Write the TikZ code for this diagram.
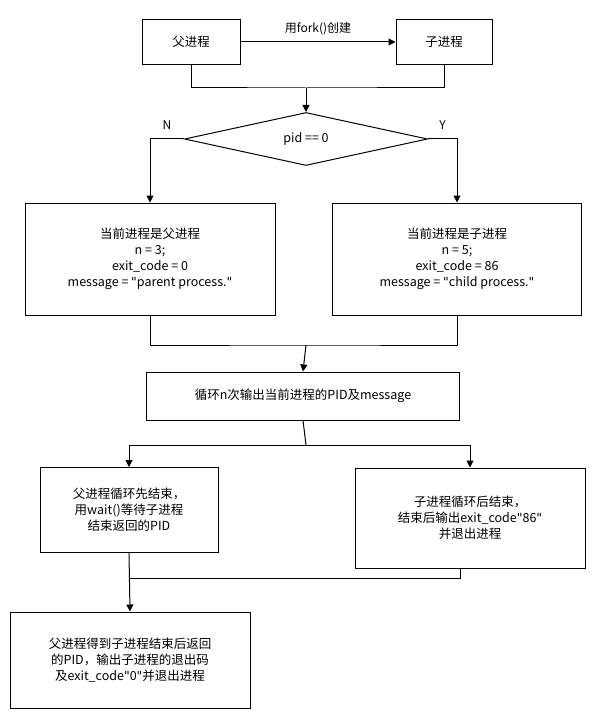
\documentclass[tikz,border=0pt]{standalone}
\usepackage{fontspec}
\setmainfont{Noto Sans CJK SC}
\newfontfamily\qfont{DejaVu Sans}
\newcommand{\qq}{{\qfont\symbol{34}}}
\usetikzlibrary{arrows.meta,shapes.geometric}
\tikzset{>={Triangle[length=7pt,width=7pt]},
  box/.style={draw,line width=1pt,align=center,font=\fontsize{12.5}{16}\selectfont,inner sep=0pt},
  lab/.style={font=\fontsize{12}{14}\selectfont},
  ln/.style={line width=1pt}}
\begin{document}
\begin{tikzpicture}[x=1pt,y=-1pt]
\useasboundingbox (0,0) rectangle (613,722);
\node[box,minimum width=98,minimum height=45] (fa) at (191,42) {父进程};
\node[box,minimum width=96,minimum height=45] (zi) at (444,42) {子进程};
\node[draw,line width=1pt,diamond,aspect=4.6,minimum width=243,minimum height=53,inner sep=0pt,font=\fontsize{12.5}{16}\selectfont] (d) at (306,139) {pid == 0};
\node[box,minimum width=250,minimum height=112] (l1) at (150,259) {当前进程是父进程\\n = 3;\\exit\_code = 0\\message = \qq parent process.\qq};
\node[box,minimum width=249,minimum height=112] (r1) at (457,259) {当前进程是子进程\\n = 5;\\exit\_code = 86\\message = \qq child process.\qq};
\node[box,minimum width=313,minimum height=48] (m) at (303,396) {循环n次输出当前进程的PID及message};
\node[box,minimum width=178,minimum height=85] (l2) at (129,510) {父进程循环先结束，\\用wait()等待子进程\\结束返回的PID};
\node[box,minimum width=230,minimum height=100] (r2) at (470,518) {子进程循环后结束，\\结束后输出exit\_code\qq 86\qq\\并退出进程};
\node[box,minimum width=240,minimum height=96] (b) at (130,660) {父进程得到子进程结束后返回\\的PID，输出子进程的退出码\\及exit\_code\qq 0\qq 并退出进程};
\coordinate (j1) at (306,88);
\coordinate (j2) at (306,345);
\coordinate (j3) at (306,445);
\coordinate (j4) at (129,578);
\draw[ln,->] (fa) -- node[above=3pt,lab] {用fork()创建} (zi);
\draw[ln] (fa.south) |- (j1) -| (zi.south);
\draw[ln,->] (j1) -- (d.north);
\draw[ln,->] (d.west) -| node[pos=0.25,above=6pt,lab] {N} (l1.north);
\draw[ln,->] (d.east) -| node[pos=0.25,above=6pt,lab] {Y} (r1.north);
\draw[ln] (l1.south) |- (j2) -| (r1.south);
\draw[ln,->] (j2) -- (m.north);
\draw[ln] (m.south) -- (j3);
\draw[ln,->] (j3) -| (l2.north);
\draw[ln,->] (j3) -| (r2.north);
\draw[ln] ([xshift=-10pt]r2.south) |- (j4);
\draw[ln,->] (l2.south) -- (b.north);
\end{tikzpicture}
\end{document}
